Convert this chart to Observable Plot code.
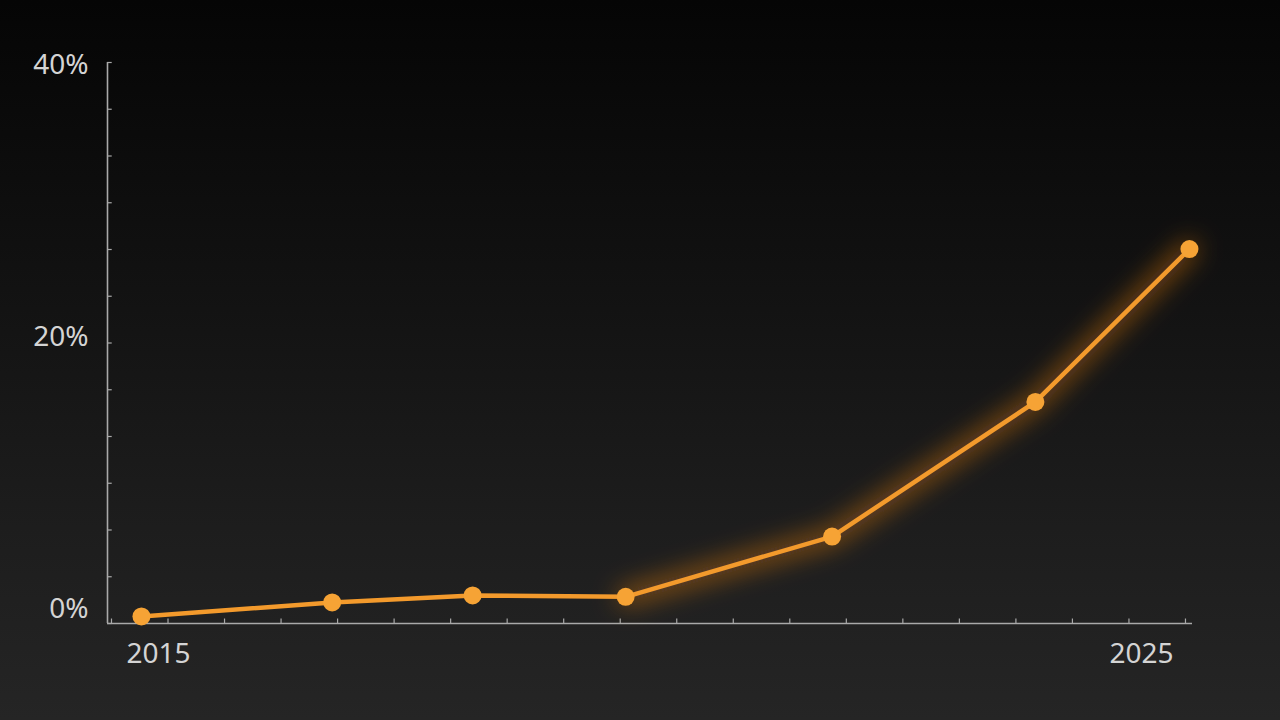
<!DOCTYPE html>
<html>
<head>
<meta charset="utf-8">
<script src="https://cdn.jsdelivr.net/npm/d3@7"></script>
<script src="https://cdn.jsdelivr.net/npm/@observablehq/plot@0.6"></script>
<style>
  html, body { margin: 0; padding: 0; width: 1280px; height: 720px; overflow: hidden; }
  body { background: linear-gradient(180deg, #050505 0%, #121212 40%, #1c1c1c 70%, #252525 100%); font-family: "Noto Sans", Lato, sans-serif; }
  #chart svg { display: block; background: transparent; }
</style>
</head>
<body>
<div id="chart"></div>
<script>
// ---- data ----
const years  = [2015, 2016.82, 2018.16, 2019.62, 2021.59, 2023.53, 2025];
const shares = [0.5, 1.5, 2.0, 1.9, 6.2, 15.8, 26.7];   // percent
const yLabelTicks = [0, 20, 40];
const xLabelFirst = [2015];
const xLabelLast  = [2025];
const xDomain = [2014.676, 2025.029];
const yDomain = [0, 40];

const data = years.map((year, i) => ({year, share: shares[i]}));
const glowData = data.filter(d => d.year >= 2019.62);

// minor tick marks along the axes
const xMinor = d3.range(20).map(i => 2014.714 + i * (2024.962 - 2014.714) / 19);
const yMinor = d3.range(13).map(i => i * 40 / 12);

const axisColor = "#a9a9a9";
const textColor = "#d4d4d4";
const orange = "#f39a2c";

const yLabelStyle = {tickSize: 0, tickPadding: 19, tickFormat: d => d + "%", label: null, fontSize: 28, fill: textColor};

const chart = Plot.plot({
  width: 1280,
  height: 720,
  marginLeft: 107,
  marginRight: 88,
  marginTop: 62,
  marginBottom: 97,
  style: {background: "transparent", fontFamily: "'Noto Sans', Lato, sans-serif"},
  x: {domain: xDomain, axis: null},
  y: {domain: yDomain, axis: null},
  marks: [
    // axis lines
    Plot.ruleY([0], {stroke: axisColor, strokeWidth: 1.6}),
    Plot.ruleX([xDomain[0]], {stroke: axisColor, strokeWidth: 1.6}),
    // minor ticks (pointing inward)
    Plot.ruleX(xMinor, {x: d => d, y1: 0, y2: 0.32, stroke: axisColor, strokeWidth: 1.2}),
    Plot.ruleY(yMinor, {y: d => d, x1: xDomain[0], x2: xDomain[0] + 0.045, stroke: axisColor, strokeWidth: 1.2}),
    // y labels (each nudged as in the reference)
    Plot.axisY({...yLabelStyle, ticks: [yLabelTicks[0]], dy: -14}),
    Plot.axisY({...yLabelStyle, ticks: [yLabelTicks[1]], dy: -6}),
    Plot.axisY({...yLabelStyle, ticks: [yLabelTicks[2]], dy: 3}),
    // x labels
    Plot.text(xLabelFirst, {x: d => d, y: 0, text: d => String(d), textAnchor: "start", dx: -15, dy: 31,
                            fontSize: 28, fill: textColor}),
    Plot.text(xLabelLast, {x: d => d, y: 0, text: d => String(d), textAnchor: "end", dx: -16, dy: 31,
                           fontSize: 28, fill: textColor}),
    // glow
    Plot.line(glowData, {x: "year", y: "share", stroke: "#ff8a10", strokeWidth: 18, strokeOpacity: 0.45}),
    // main line + dots
    Plot.line(data, {x: "year", y: "share", stroke: orange, strokeWidth: 4.5}),
    Plot.dot(data, {x: "year", y: "share", r: 9, fill: "#f6a335", stroke: "none"})
  ]
});

// blur filter for the glow line
const ns = "http://www.w3.org/2000/svg";
const defs = document.createElementNS(ns, "defs");
defs.innerHTML = '<filter id="glow" x="-20%" y="-20%" width="140%" height="140%"><feGaussianBlur stdDeviation="12"/></filter>';
chart.insertBefore(defs, chart.firstChild);
const lines = chart.querySelectorAll('g[aria-label="line"]');
if (lines.length) lines[0].setAttribute("filter", "url(#glow)");

document.getElementById("chart").appendChild(chart);
</script>
</body>
</html>
